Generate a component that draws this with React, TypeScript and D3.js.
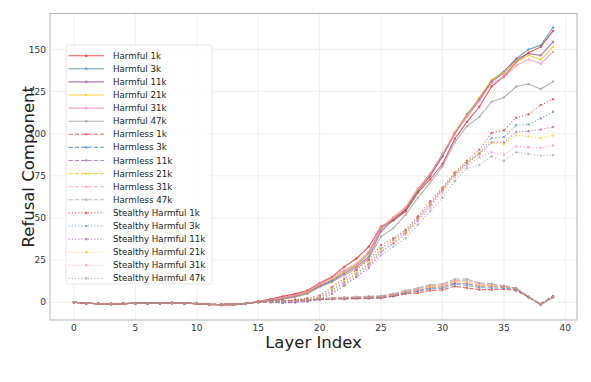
import React from "react";
import * as d3 from "d3";

const layers: number[] = d3.range(40);
const xTicks = [0, 5, 10, 15, 20, 25, 30, 35, 40];
const yTicks = [0, 25, 50, 75, 100, 125, 150];
const sizes = ["1k", "3k", "11k", "21k", "31k", "47k"];
const palette = ["#e41a1c", "#377eb8", "#984ea3", "#ffbf00", "#f781bf", "#999999"];

const early = [0, -0.5, -0.9, -1, -0.8, -0.6, -0.5, -0.5, -0.4, -0.5, -0.8, -1.2, -1.3, -1.1, -0.7];

const harmful1k = [0, -0.5, -0.9, -1, -0.8, -0.6, -0.5, -0.5, -0.4, -0.6, -0.9, -1.4, -1.7, -1.5, -0.9, 0.5, 2, 3.5, 5, 7, 11.5, 15, 21, 26, 33, 45, 48.5, 54, 65, 73, 82, 97, 107, 116, 128, 134, 142.5, 148, 151.5, 161];
const harmful3k = [...early, 0.3, 1.5, 2.5, 4, 6, 10, 13, 18, 22, 29, 43.5, 49.5, 55, 66, 75, 86.5, 100.5, 111.5, 121, 131.5, 137, 144.5, 150, 152.5, 163];
const harmful11k = [...early, 0.2, 1.2, 2, 3.5, 5.5, 9.5, 12.5, 17, 21, 27, 42, 49, 55, 66.5, 75, 87, 100, 111, 120, 131, 136, 144, 147.5, 146.5, 154.5];
const harmful21k = [...early, 0.3, 1.4, 2.5, 4, 6, 10.5, 14, 18, 22, 29, 44, 50, 56, 67, 76, 88, 101, 111, 121.5, 132, 136, 143, 146.5, 144, 151.5];
const harmful31k = [...early, 0.3, 1.5, 2.7, 4.2, 6.5, 11, 14.5, 19, 23, 30, 44.5, 50.5, 56.5, 67.5, 76.5, 88, 100, 110, 119.5, 130, 133.5, 140.5, 144, 141.5, 148.5];
const harmful47k = [...early, 0.2, 1, 2, 3, 5, 9, 12, 16, 20, 26, 39, 44, 52, 62, 71, 80.5, 95, 104.5, 110, 119, 121.5, 128, 129.5, 126.5, 131];

const harmless1k = [...early, 0.3, 0.6, 0.8, 1.2, 1.5, 1.5, 2, 2, 2.2, 2.3, 2.5, 3.5, 5, 5.5, 7, 7.3, 9.5, 8.5, 7.5, 7.5, 7.8, 7, 3, -1.5, 3.5];
const harmless3k = [...early, 0.3, 0.5, 0.6, 0.8, 1.2, 1.8, 2.2, 2.3, 2.5, 2.6, 2.8, 3.8, 5.5, 6.5, 8, 8.3, 10.8, 10, 8.8, 8.5, 8.5, 7.5, 3.2, -0.8, 3.8];
const harmless11k = [...early, 0.1, 0, -0.3, 0, 0.5, 1.8, 2, 2.3, 2.6, 2.8, 3, 4.2, 6, 7, 8.7, 9.2, 11.5, 11, 9.5, 9.5, 9, 8, 3, -1, 3];
const harmless21k = [...early, 0.2, 0.4, 0.6, 0.8, 1.2, 2, 2.4, 2.6, 2.9, 3.1, 3.4, 4.6, 6.2, 7.5, 9.2, 9.6, 12.5, 12, 10, 9.8, 9.3, 8.2, 3.3, -1.2, 3.2];
const harmless31k = [...early, 0.2, 0.4, 0.6, 0.9, 1.3, 2.1, 2.5, 2.8, 3, 3.3, 3.6, 4.8, 6.5, 8, 9.8, 10.3, 13, 13, 11, 10.5, 9.6, 8.3, 3.4, -1.4, 3];
const harmless47k = [...early, 0.2, 0.4, 0.7, 1, 1.4, 2.2, 2.6, 3, 3.3, 3.6, 3.9, 5.2, 7, 8.5, 10.3, 10.9, 13.8, 13.8, 11.5, 11, 9.8, 8.4, 3.5, -1.6, 2.8];

const stealthy1k = [...early, 0.2, 0.5, 1, 1.5, 2.5, 4, 9, 14, 19, 25, 34, 38, 43, 51, 60, 68, 77, 84, 90.5, 100.5, 102, 109.5, 111.5, 117, 120.5];
const stealthy3k = [...early, 0.2, 0.3, 0.5, 1, 1.8, 3, 7, 12, 17, 23, 32, 37, 42, 50, 58.5, 67, 76, 83, 88.5, 97.5, 98, 105, 105.5, 109, 113];
const stealthy11k = [...early, 0.1, 0, -0.2, 0, 0.8, 2, 5, 10, 15, 21, 30, 35, 41, 49, 57.5, 66.5, 75.5, 82.5, 88, 95, 95, 101, 101.5, 102.5, 104];
const stealthy21k = [...early, 0.2, 0.3, 0.5, 1, 1.5, 3, 8, 12.5, 17.5, 23, 31.5, 36.5, 41.5, 49.5, 58, 67, 76, 83, 88.5, 94.5, 94, 99, 98.5, 97.3, 99];
const stealthy31k = [...early, 0.2, 0.3, 0.4, 0.8, 1.2, 2.5, 6, 11, 16, 22, 30, 35, 40, 48, 56, 65, 74, 81, 86, 89, 87.5, 92.5, 92, 91.5, 93];
const stealthy47k = [...early, 0.1, 0.2, 0.3, 0.6, 1, 2, 5, 10, 15, 20, 28, 33, 38, 46, 54, 62, 72, 79.5, 81.5, 86.5, 84, 89, 88, 87, 87.3];

const groups = [
  { name: "Harmful", dash: "none", opacity: 0.75, data: [harmful1k, harmful3k, harmful11k, harmful21k, harmful31k, harmful47k] },
  { name: "Harmless", dash: "4.4,1.9", opacity: 0.65, data: [harmless1k, harmless3k, harmless11k, harmless21k, harmless31k, harmless47k] },
  { name: "Stealthy Harmful", dash: "1.2,2", opacity: 0.65, data: [stealthy1k, stealthy3k, stealthy11k, stealthy21k, stealthy31k, stealthy47k] },
];

const W = 591, H = 382;
const L = 50, R = 577, T = 13.5, B = 320;
const FONT = "DejaVu Sans, sans-serif";

export default function App() {
  const x = d3.scaleLinear().domain([-1.95, 40.95]).range([L, R]);
  const y = d3.scaleLinear().domain([-10.5, 171.3]).range([B, T]);
  const line = d3.line<number>().x((_, i) => x(layers[i])).y((d) => y(d));

  const series: { label: string; color: string; dash: string; opacity: number; values: number[] }[] = [];
  groups.forEach((g) => {
    g.data.forEach((vals, k) => {
      series.push({ label: `${g.name} ${sizes[k]}`, color: palette[k], dash: g.dash, opacity: g.opacity, values: vals });
    });
  });

  const legX = 66, legY = 45, legW = 146, legH = 239;
  const rowY0 = 55.7, rowDy = 13.1;

  return (
    <svg width={W} height={H} style={{ position: "absolute", left: 0, top: 0, background: "#fff" }} fontFamily={FONT}>
      <rect x={0} y={0} width={W} height={H} fill="#fff" />
      {/* grid */}
      {xTicks.map((t) => (
        <line key={"gx" + t} x1={x(t)} x2={x(t)} y1={T} y2={B} stroke="#ebebeb" strokeWidth={0.8} />
      ))}
      {yTicks.map((t) => (
        <line key={"gy" + t} x1={L} x2={R} y1={y(t)} y2={y(t)} stroke="#ebebeb" strokeWidth={0.8} />
      ))}
      {/* series */}
      {series.map((s, si) => (
        <g key={"s" + si} opacity={s.opacity}>
          <path d={line(s.values) || ""} fill="none" stroke={s.color} strokeWidth={1.1} strokeDasharray={s.dash} />
          {s.values.map((v, i) => (
            <circle key={i} cx={x(layers[i])} cy={y(v)} r={1.2} fill={s.color} />
          ))}
        </g>
      ))}
      {/* frame */}
      <rect x={L} y={T} width={R - L} height={B - T} fill="none" stroke="#b5b5b5" strokeWidth={1} />
      {/* ticks */}
      {xTicks.map((t) => (
        <text key={"tx" + t} x={x(t)} y={331} textAnchor="middle" fontSize={9} fill="#333">{t}</text>
      ))}
      {yTicks.map((t) => (
        <text key={"ty" + t} x={46} y={y(t)} dy="0.35em" textAnchor="end" fontSize={9} fill="#333">{t}</text>
      ))}
      {/* axis labels */}
      <text x={(L + R) / 2} y={348} textAnchor="middle" fontSize={16.5} fill="#222">Layer Index</text>
      <text transform={`translate(34, ${(T + B) / 2}) rotate(-90)`} textAnchor="middle" fontSize={16.5} fill="#222">Refusal Component</text>
      {/* legend */}
      <rect x={legX} y={legY} width={legW} height={legH} rx={2.5} fill="#fff" fillOpacity={0.8} stroke="#e0e0e0" strokeWidth={0.8} />
      {series.map((s, si) => {
        const ry = rowY0 + si * rowDy;
        return (
          <g key={"l" + si}>
            <g opacity={s.opacity}>
              <line x1={68.5} x2={104} y1={ry} y2={ry} stroke={s.color} strokeWidth={1.1} strokeDasharray={s.dash} />
              <circle cx={86.3} cy={ry} r={1.3} fill={s.color} />
            </g>
            <text x={113} y={ry} dy="0.35em" fontSize={8.7} fill="#222">{s.label}</text>
          </g>
        );
      })}
    </svg>
  );
}
